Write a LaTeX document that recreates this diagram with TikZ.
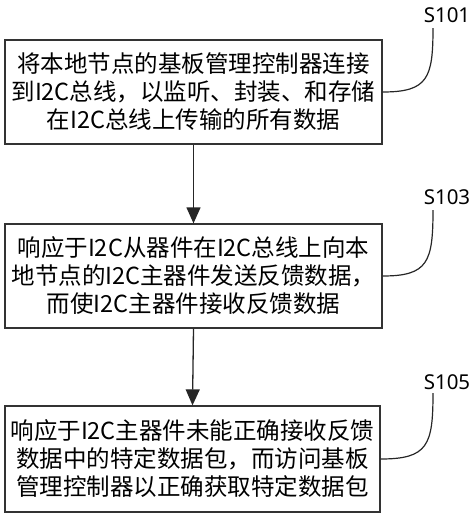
\documentclass[tikz,border=0pt]{standalone}
\usepackage{fontspec}
\setmainfont{Noto Sans CJK SC}
\newfontfamily\labfont{Noto Sans}
\usetikzlibrary{arrows.meta}
\begin{document}
\begin{tikzpicture}[x=1pt,y=-1pt,
  stepbox/.style={draw=black!80, line width=1.3pt, minimum width=377pt, minimum height=104pt, align=center, inner sep=0pt, font=\fontsize{23.5}{28}\selectfont},
  steplabel/.style={font=\labfont\fontsize{20.5}{22}\selectfont, inner sep=0pt},
  flow/.style={line width=1.3pt, draw=black!85, -{Triangle[width=14pt,length=16pt]}},
  lead/.style={line width=1.2pt, draw=black!85}]
\useasboundingbox (0,0) rectangle (474,517);
\node[stepbox] (b1) at (193.5,92) {将本地节点的基板管理控制器连接\\到I2C总线，以监听、封装、和存储\\在I2C总线上传输的所有数据};
\node[stepbox] (b2) at (193.5,276) {响应于I2C从器件在I2C总线上向本\\地节点的I2C主器件发送反馈数据，\\而使I2C主器件接收反馈数据};
\node[stepbox, minimum width=375pt, minimum height=106pt] (b3) at (192.5,459) {响应于I2C主器件未能正确接收反馈\\数据中的特定数据包，而访问基板\\管理控制器以正确获取特定数据包};
\node[steplabel] (l1) at (447,15) {S101};
\node[steplabel] (l2) at (447,197) {S103};
\node[steplabel] (l3) at (447,382) {S105};
\coordinate (e1) at (433,28);
\coordinate (e2) at (433,210);
\coordinate (e3) at (433,393);
\draw[flow] (b1.south) -- (b2.north);
\draw[flow] (b2.south) -- (b3.north);
\draw[lead] (b1.east) .. controls (428,92) and (433,78) .. (e1);
\draw[lead] (b2.east) .. controls (428,276) and (433,262) .. (e2);
\draw[lead] (b3.east) .. controls (428,459) and (433,445) .. (e3);
\end{tikzpicture}
\end{document}
